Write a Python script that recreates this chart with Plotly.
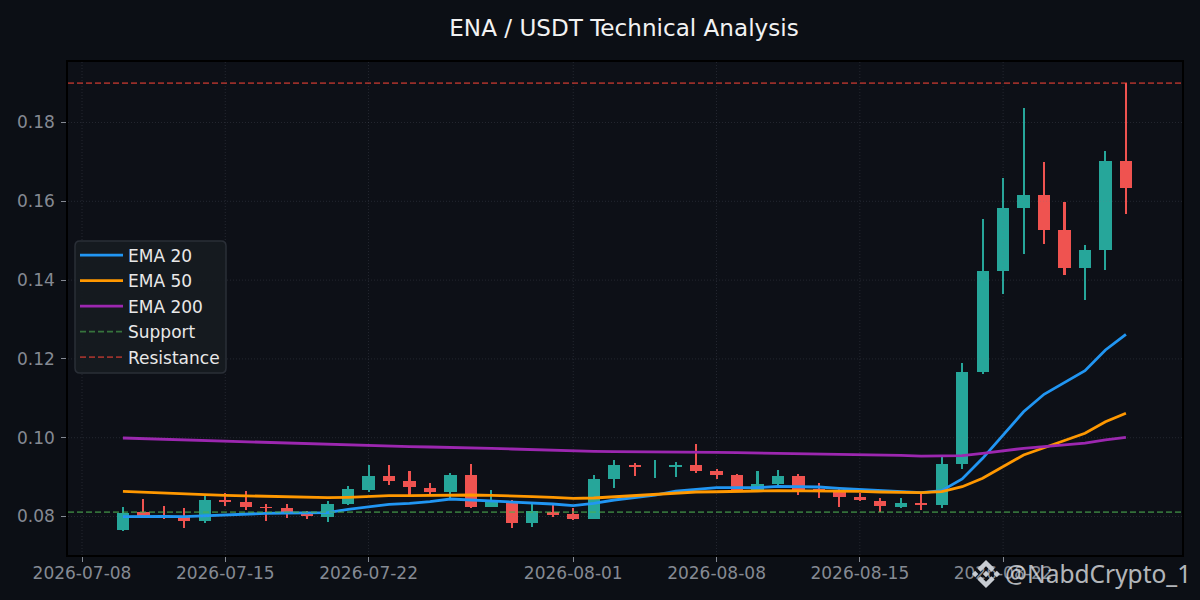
import urllib.parse

import plotly.graph_objects as go

dates = [
    "2026-07-10", "2026-07-11", "2026-07-12", "2026-07-13", "2026-07-14", "2026-07-15", "2026-07-16",
    "2026-07-17", "2026-07-18", "2026-07-19", "2026-07-20", "2026-07-21", "2026-07-22", "2026-07-23",
    "2026-07-24", "2026-07-25", "2026-07-26", "2026-07-27", "2026-07-28", "2026-07-29", "2026-07-30",
    "2026-07-31", "2026-08-01", "2026-08-02", "2026-08-03", "2026-08-04", "2026-08-05", "2026-08-06",
    "2026-08-07", "2026-08-08", "2026-08-09", "2026-08-10", "2026-08-11", "2026-08-12", "2026-08-13",
    "2026-08-14", "2026-08-15", "2026-08-16", "2026-08-17", "2026-08-18", "2026-08-19", "2026-08-20",
    "2026-08-21", "2026-08-22", "2026-08-23", "2026-08-24", "2026-08-25", "2026-08-26", "2026-08-27",
    "2026-08-28",
]
opens = [
    0.07657, 0.08107, 0.0802, 0.0798, 0.07893, 0.08419, 0.08368, 0.08241, 0.08216, 0.08089,
    0.07995, 0.08317, 0.08673, 0.09028, 0.08901, 0.08723, 0.08622, 0.09053, 0.08241, 0.08343,
    0.07835, 0.08114, 0.08063, 0.07937, 0.08952, 0.09307, 0.0925, 0.09256, 0.09307, 0.09155,
    0.09053, 0.08673, 0.08825, 0.09028, 0.08698, 0.08673, 0.08495, 0.08393, 0.08241, 0.08343,
    0.08292, 0.09332, 0.11668, 0.14231, 0.1583, 0.1616, 0.15272, 0.14307, 0.14764, 0.17023,
]
closes = [
    0.08096, 0.08005, 0.08005, 0.07886, 0.08419, 0.08376, 0.08241, 0.08216, 0.08089, 0.08013,
    0.08317, 0.08698, 0.09028, 0.08901, 0.08749, 0.08622, 0.09053, 0.08241, 0.08368, 0.07835,
    0.0814, 0.08038, 0.07937, 0.08952, 0.09307, 0.09256, 0.0925, 0.09307, 0.09155, 0.09053,
    0.08673, 0.08825, 0.09028, 0.08673, 0.08647, 0.08495, 0.08419, 0.08266, 0.08343, 0.08292,
    0.09332, 0.11668, 0.14231, 0.1583, 0.1616, 0.15272, 0.14307, 0.14764, 0.17023, 0.16338,
]
highs = [
    0.08241, 0.08444, 0.08266, 0.08216, 0.0852, 0.08589, 0.08647, 0.08317, 0.08317, 0.0814,
    0.08393, 0.08774, 0.09307, 0.09307, 0.09155, 0.0885, 0.09104, 0.09332, 0.08673, 0.08419,
    0.08317, 0.08292, 0.08216, 0.09053, 0.09434, 0.09358, 0.09434, 0.09383, 0.0984, 0.09206,
    0.09079, 0.09155, 0.0918, 0.09079, 0.0885, 0.08698, 0.08596, 0.0847, 0.0847, 0.08571,
    0.0951, 0.11896, 0.15551, 0.16591, 0.18368, 0.16997, 0.15982, 0.14891, 0.17277, 0.19003,
]
lows = [
    0.07632, 0.08005, 0.07937, 0.07708, 0.07835, 0.08266, 0.08165, 0.07886, 0.07962, 0.07937,
    0.0786, 0.08292, 0.08622, 0.08799, 0.08546, 0.08546, 0.08444, 0.08216, 0.08241, 0.07708,
    0.07734, 0.07987, 0.07911, 0.07937, 0.08723, 0.09028, 0.08977, 0.09003, 0.09104, 0.08952,
    0.0863, 0.08655, 0.08774, 0.08546, 0.0847, 0.08241, 0.08393, 0.08114, 0.08216, 0.08165,
    0.08216, 0.09206, 0.11617, 0.13647, 0.14662, 0.14916, 0.1413, 0.13495, 0.14256, 0.15678,
]
ema20 = [
    0.07995, 0.08005, 0.08005, 0.07995, 0.0802, 0.08046, 0.08063, 0.08081, 0.08089, 0.08089,
    0.08096, 0.08183, 0.08241, 0.0831, 0.08335, 0.08376, 0.08444, 0.08419, 0.08411, 0.08368,
    0.08343, 0.08317, 0.08274, 0.08335, 0.08419, 0.08477, 0.08546, 0.08647, 0.0869, 0.08731,
    0.08731, 0.08731, 0.08766, 0.08756, 0.08749, 0.08716, 0.0869, 0.08655, 0.08647, 0.08604,
    0.08655, 0.08952, 0.09477, 0.10069, 0.1066, 0.11102, 0.11396, 0.117, 0.12226, 0.12624,
]
ema50 = [
    0.0864, 0.08614, 0.08589, 0.08563, 0.08553, 0.08538, 0.08528, 0.08513, 0.08503, 0.08487,
    0.08477, 0.08487, 0.08513, 0.08528, 0.08528, 0.08538, 0.08553, 0.08546, 0.08538, 0.08513,
    0.08503, 0.08487, 0.08462, 0.0847, 0.08503, 0.08528, 0.08553, 0.08604, 0.08622, 0.08629,
    0.08629, 0.08647, 0.08655, 0.08655, 0.08655, 0.08647, 0.0864, 0.08622, 0.08614, 0.08604,
    0.08629, 0.08756, 0.0897, 0.09264, 0.09561, 0.09746, 0.09924, 0.10112, 0.10406, 0.10619,
]
ema200 = [
    0.09992, 0.09975, 0.0996, 0.09942, 0.09924, 0.09909, 0.09891, 0.09873, 0.09858, 0.0984,
    0.09822, 0.09815, 0.09797, 0.09789, 0.09772, 0.09764, 0.09756, 0.09746, 0.09731, 0.09713,
    0.09695, 0.0968, 0.09662, 0.09655, 0.09645, 0.09645, 0.09637, 0.09637, 0.09637, 0.09629,
    0.09619, 0.09612, 0.09604, 0.09594, 0.09586, 0.09579, 0.09569, 0.09561, 0.09553, 0.09535,
    0.09535, 0.09543, 0.09604, 0.0967, 0.09731, 0.09772, 0.09822, 0.09865, 0.09942, 0.1001,
]
support = 0.0811
resistance = 0.19

x_ticks = ["2026-07-08", "2026-07-15", "2026-07-22", "2026-08-01", "2026-08-08", "2026-08-15", "2026-08-22"]
y_ticks = [0.08, 0.10, 0.12, 0.14, 0.16, 0.18]
y_labels = ["0.08", "0.10", "0.12", "0.14", "0.16", "0.18"]

x_range = ["2026-07-07 07:35", "2026-08-30 17:45"]
y_range = [0.07023, 0.19536]

DAY_MS = 86400000
UP = "#26a69a"
DOWN = "#ef5350"
BG = "#0c0f15"
PANEL = "#0d1017"
GRID = "rgba(120,125,135,0.22)"
TICK = "#858a93"

colors = [UP if c >= o else DOWN for o, c in zip(opens, closes)]


def paper_x(px):
    return (px - 68) / 1114


def paper_y(py):
    return (555 - py) / 493


fig = go.Figure()

# wicks and bodies as two bar layers so a doji keeps no body
fig.add_trace(go.Bar(x=dates, y=[h - l for h, l in zip(highs, lows)], base=lows,
                     width=0.1 * DAY_MS, marker=dict(color=colors, line_width=0),
                     showlegend=False, hoverinfo="skip"))
fig.add_trace(go.Bar(x=dates, y=[abs(c - o) for o, c in zip(opens, closes)],
                     base=[min(o, c) for o, c in zip(opens, closes)],
                     width=0.6 * DAY_MS, marker=dict(color=colors, line_width=0),
                     showlegend=False, hoverinfo="skip"))

fig.add_trace(go.Scatter(x=dates, y=ema20, mode="lines", name="EMA 20", legendgroup="a",
                         line=dict(color="#2196f3", width=2.8)))
fig.add_trace(go.Scatter(x=dates, y=ema50, mode="lines", name="EMA 50", legendgroup="b",
                         line=dict(color="#ff9800", width=2.8)))
fig.add_trace(go.Scatter(x=dates, y=ema200, mode="lines", name="EMA 200", legendgroup="c",
                         line=dict(color="#9c27b0", width=2.8)))
fig.add_trace(go.Scatter(x=x_range, y=[support, support], mode="lines", name="Support", legendgroup="d",
                         line=dict(color="rgba(76,175,80,0.6)", width=1.8, dash="6px,3px")))
fig.add_trace(go.Scatter(x=x_range, y=[resistance, resistance], mode="lines", name="Resistance", legendgroup="e",
                         line=dict(color="rgba(244,67,54,0.6)", width=1.8, dash="6px,3px")))

# grid sits over the candles in the reference, so it is drawn as shapes
for t in y_ticks:
    fig.add_shape(type="line", xref="paper", x0=0, x1=1, yref="y", y0=t, y1=t, layer="above",
                  line=dict(color=GRID, width=1, dash="1px,2px"))
for t in x_ticks:
    fig.add_shape(type="line", yref="paper", y0=0, y1=1, xref="x", x0=t, x1=t, layer="above",
                  line=dict(color=GRID, width=1, dash="1px,2px"))

# legend box with rounded corners, the plotly legend itself stays transparent
x0, x1, y0, y1 = paper_x(75), paper_x(226), paper_y(241), paper_y(373)
rx, ry = 5 / 1114, 5 / 493
box = (f"M {x0 + rx} {y0} L {x1 - rx} {y0} Q {x1} {y0} {x1} {y0 - ry} "
       f"L {x1} {y1 + ry} Q {x1} {y1} {x1 - rx} {y1} "
       f"L {x0 + rx} {y1} Q {x0} {y1} {x0} {y1 + ry} "
       f"L {x0} {y0 - ry} Q {x0} {y0} {x0 + rx} {y0} Z")
fig.add_shape(type="path", path=box, xref="paper", yref="paper", layer="above",
              fillcolor="rgba(22,27,33,0.92)", line=dict(color="#2a2f37", width=1.5))

logo = (
    '<svg xmlns="http://www.w3.org/2000/svg" viewBox="0 0 126.61 126.61"><g fill="#c8ccd2">'
    '<path d="M38.73 53.2l24.59-24.58 24.6 24.6 14.3-14.31L63.32 0 24.43 38.9z"/>'
    '<path d="M0 63.31l14.3-14.31 14.31 14.31-14.31 14.3z"/>'
    '<path d="M38.73 73.41l24.59 24.59 24.6-24.6 14.31 14.29-38.9 38.91-38.91-38.88z"/>'
    '<path d="M98 63.31l14.3-14.31 14.31 14.3-14.31 14.32z"/>'
    '<path d="M77.83 63.3L63.32 48.78 52.59 59.51l-1.24 1.23-2.54 2.54 14.51 14.5 14.51-14.47z"/>'
    '</g></svg>'
)
fig.add_layout_image(source="data:image/svg+xml," + urllib.parse.quote(logo),
                     xref="paper", yref="paper", x=paper_x(972), y=paper_y(560),
                     sizex=28 / 1114, sizey=28 / 493, xanchor="left", yanchor="top", layer="above")
fig.add_annotation(text="@NabdCrypto_1", xref="paper", yref="paper",
                   x=paper_x(1003), y=paper_y(573), xanchor="left", yanchor="middle",
                   showarrow=False, font=dict(family="Noto Sans", size=24.5, color="rgba(225,228,232,0.8)"))

fig.update_layout(
    width=1200, height=600, autosize=False,
    margin=dict(l=68, r=18, t=62, b=45, autoexpand=False),
    paper_bgcolor=BG, plot_bgcolor=PANEL,
    barmode="overlay", bargap=0,
    title=dict(text="ENA / USDT Technical Analysis", x=0.52, xanchor="center", y=0.953, yanchor="middle",
               font=dict(family="DejaVu Sans", size=23.1, color="#f2f2f2")),
    font=dict(family="DejaVu Sans"),
    legend=dict(x=paper_x(75), y=paper_y(237.5), xanchor="left", yanchor="top",
                bgcolor="rgba(0,0,0,0)", borderwidth=0,
                font=dict(size=17, color="#e8e8e8"), itemwidth=43, tracegroupgap=0.4),
    xaxis=dict(type="date", range=x_range, showgrid=False, zeroline=False,
               tickmode="array", tickvals=x_ticks, ticktext=x_ticks, ticks="outside", ticklen=5,
               tickcolor=TICK, tickwidth=1, tickfont=dict(size=17, color=TICK), ticklabelstandoff=-3,
               showline=True, linecolor="#000000", linewidth=1.5, mirror=True),
    yaxis=dict(range=y_range, showgrid=False, zeroline=False,
               tickmode="array", tickvals=y_ticks, ticktext=y_labels, ticks="outside", ticklen=5,
               tickcolor=TICK, tickwidth=1, tickfont=dict(size=17, color=TICK), ticklabelstandoff=3,
               showline=True, linecolor="#000000", linewidth=1.5, mirror=True),
)

# the browser's default body margin would shift the whole figure by 8px
fig.write_html("out.html", config={"displayModeBar": False}, post_script=(
    "document.body.style.margin='0';"
    "document.body.style.overflow='hidden';"
    "document.body.style.background='" + BG + "';"
))
